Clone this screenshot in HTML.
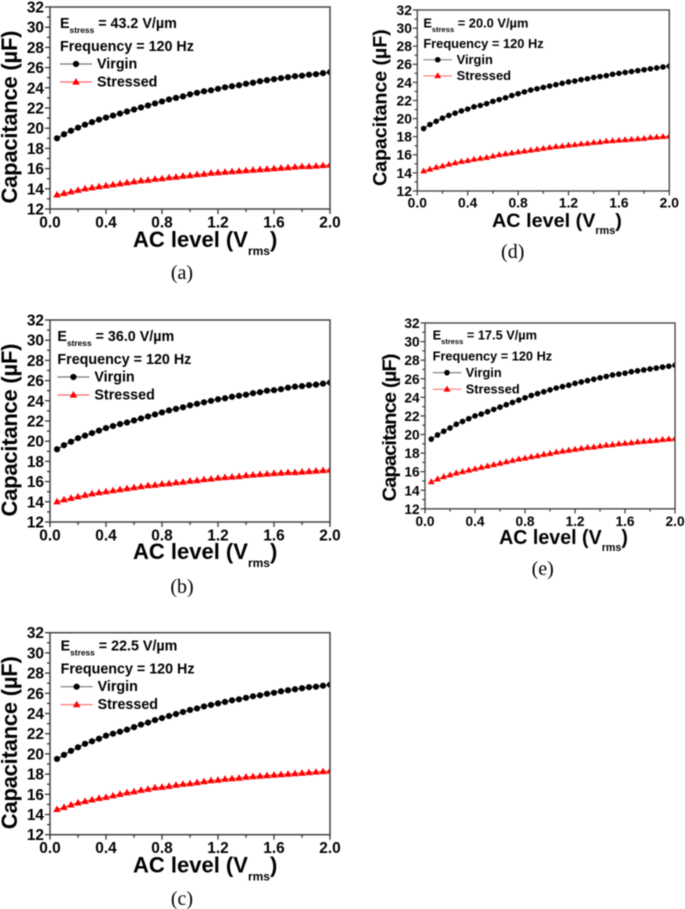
<!DOCTYPE html>
<html lang="en">
<head>
<meta charset="utf-8">
<title>Capacitance vs AC level</title>
<style>
html,body{margin:0;padding:0;background:#fff;width:685px;height:909px;overflow:hidden}
svg{display:block;filter:blur(0.5px)}
text{font-family:"Liberation Sans",sans-serif;font-weight:bold;fill:#000}
.tick{font-size:15.4px}
.axis{font-size:22px}
.leg{font-size:14.3px}
.sub{font-size:8.4px}
.subx{font-size:12px}
.cap{font-family:"Liberation Serif",serif;font-weight:normal;font-size:20px;text-anchor:middle}
</style>
</head>
<body>
<svg xmlns="http://www.w3.org/2000/svg" width="685" height="909" viewBox="0 0 685 909">
<defs><clipPath id="plot-clip"><rect x="-1" y="-8" width="281" height="218"></rect></clipPath></defs>

<g id="panel-a" transform="translate(50,7)">
  <text class="axis" transform="translate(-33,110) rotate(-90)" text-anchor="middle" textLength="173">Capacitance (µF)</text>
  <text class="axis" x="83" y="240">AC level (V<tspan class="subx" dy="8">rms</tspan><tspan dy="-8">)</tspan></text>
  <g transform="translate(0,0)">
    <text class="leg" x="10" y="21">E<tspan class="sub" dy="5">stress</tspan><tspan dy="-5"> = 43.2 V/µm</tspan></text>
    <text class="leg" x="10" y="44">Frequency = 120 Hz</text>
    <line x1="10" x2="42" y1="57" y2="57" stroke="#777" stroke-width="1.2"></line>
    <circle cx="26" cy="57" r="3.1" fill="#000"></circle>
    <text class="leg" x="47" y="61.5">Virgin</text>
    <line x1="10" x2="42" y1="75" y2="75" stroke="#f66" stroke-width="1.2"></line>
    <polygon points="26,71 29.8,77.6 22.2,77.6" fill="#f00"></polygon>
    <text class="leg" x="47" y="79.5">Stressed</text>
  </g>
</g>

<g id="panel-b" transform="translate(50,320)">
  <text class="axis" transform="translate(-33,110) rotate(-90)" text-anchor="middle" textLength="173">Capacitance (µF)</text>
  <text class="axis" x="83" y="239">AC level (V<tspan class="subx" dy="8">rms</tspan><tspan dy="-8">)</tspan></text>
  <g transform="translate(-2.6,0)">
    <text class="leg" x="10" y="21">E<tspan class="sub" dy="5">stress</tspan><tspan dy="-5"> = 36.0 V/µm</tspan></text>
    <text class="leg" x="10" y="44">Frequency = 120 Hz</text>
    <line x1="10" x2="42" y1="57" y2="57" stroke="#777" stroke-width="1.2"></line>
    <circle cx="26" cy="57" r="3.1" fill="#000"></circle>
    <text class="leg" x="47" y="61.5">Virgin</text>
    <line x1="10" x2="42" y1="75" y2="75" stroke="#f66" stroke-width="1.2"></line>
    <polygon points="26,71 29.8,77.6 22.2,77.6" fill="#f00"></polygon>
    <text class="leg" x="47" y="79.5">Stressed</text>
  </g>
</g>

<g id="panel-c" transform="translate(50,632.7)">
  <text class="axis" transform="translate(-33,110) rotate(-90)" text-anchor="middle" textLength="173">Capacitance (µF)</text>
  <text class="axis" x="83" y="240">AC level (V<tspan class="subx" dy="8">rms</tspan><tspan dy="-8">)</tspan></text>
  <g transform="translate(0.6,-3)">
    <text class="leg" x="10" y="21">E<tspan class="sub" dy="5">stress</tspan><tspan dy="-5"> = 22.5 V/µm</tspan></text>
    <text class="leg" x="10" y="44">Frequency = 120 Hz</text>
    <line x1="10" x2="42" y1="57" y2="57" stroke="#777" stroke-width="1.2"></line>
    <circle cx="26" cy="57" r="3.1" fill="#000"></circle>
    <text class="leg" x="47" y="61.5">Virgin</text>
    <line x1="10" x2="42" y1="75" y2="75" stroke="#f66" stroke-width="1.2"></line>
    <polygon points="26,71 29.8,77.6 22.2,77.6" fill="#f00"></polygon>
    <text class="leg" x="47" y="79.5">Stressed</text>
  </g>
</g>

<g id="panel-d" transform="translate(417.3,10) scale(0.9,0.896)">
  <text class="axis" transform="translate(-34,109) rotate(-90)" text-anchor="middle" textLength="175">Capacitance (µF)</text>
  <text class="axis" x="83" y="242">AC level (V<tspan class="subx" dy="8">rms</tspan><tspan dy="-8">)</tspan></text>
  <g transform="translate(-3.3,-1.5)">
    <text class="leg" x="10" y="21">E<tspan class="sub" dy="5">stress</tspan><tspan dy="-5"> = 20.0 V/µm</tspan></text>
    <text class="leg" x="10" y="44">Frequency = 120 Hz</text>
    <line x1="10" x2="42" y1="57" y2="57" stroke="#777" stroke-width="1.2"></line>
    <circle cx="26" cy="57" r="3.1" fill="#000"></circle>
    <text class="leg" x="47" y="61.5">Virgin</text>
    <line x1="10" x2="42" y1="75" y2="75" stroke="#f66" stroke-width="1.2"></line>
    <polygon points="26,71 29.8,77.6 22.2,77.6" fill="#f00"></polygon>
    <text class="leg" x="47" y="79.5">Stressed</text>
  </g>
</g>

<g id="panel-e" transform="translate(425,323) scale(0.893,0.92)">
  <text class="axis" transform="translate(-32.5,113.6) rotate(-90)" text-anchor="middle" textLength="161">Capacitance (µF)</text>
  <text class="axis" x="83" y="240">AC level (V<tspan class="subx" dy="8">rms</tspan><tspan dy="-8">)</tspan></text>
  <g transform="translate(-1.4,-3)">
    <text class="leg" x="10" y="21">E<tspan class="sub" dy="5">stress</tspan><tspan dy="-5"> = 17.5 V/µm</tspan></text>
    <text class="leg" x="10" y="44">Frequency = 120 Hz</text>
    <line x1="10" x2="42" y1="57" y2="57" stroke="#777" stroke-width="1.2"></line>
    <circle cx="26" cy="57" r="3.1" fill="#000"></circle>
    <text class="leg" x="47" y="61.5">Virgin</text>
    <line x1="10" x2="42" y1="75" y2="75" stroke="#f66" stroke-width="1.2"></line>
    <polygon points="26,71 29.8,77.6 22.2,77.6" fill="#f00"></polygon>
    <text class="leg" x="47" y="79.5">Stressed</text>
  </g>
</g>

<text class="cap" x="182" y="279">(a)</text>
<text class="cap" x="182" y="593">(b)</text>
<text class="cap" x="182" y="905">(c)</text>
<text class="cap" x="512.7" y="258">(d)</text>
<text class="cap" x="542.7" y="575">(e)</text>
</svg>

<script>
const acLevels = [0.05,0.10,0.15,0.20,0.25,0.30,0.35,0.40,0.45,0.50,0.55,0.60,0.65,0.70,0.75,0.80,0.85,0.90,0.95,1.00,1.05,1.10,1.15,1.20,1.25,1.30,1.35,1.40,1.45,1.50,1.55,1.60,1.65,1.70,1.75,1.80,1.85,1.90,1.95,2.00];

const virginA = [19.0,19.4,19.75,20.05,20.35,20.6,20.85,21.05,21.25,21.45,21.65,21.85,22.05,22.25,22.45,22.65,22.85,23.0,23.15,23.35,23.5,23.65,23.75,23.9,24.05,24.15,24.25,24.4,24.5,24.65,24.75,24.85,24.95,25.05,25.15,25.2,25.3,25.35,25.45,25.55];
const stressedA = [13.4,13.55,13.7,13.85,14.0,14.1,14.2,14.3,14.4,14.5,14.6,14.7,14.8,14.85,14.95,15.0,15.1,15.15,15.25,15.3,15.4,15.45,15.55,15.6,15.65,15.7,15.75,15.8,15.85,15.9,15.95,16.0,16.05,16.1,16.15,16.2,16.2,16.25,16.3,16.35];

const virginB = [19.2,19.6,19.95,20.3,20.55,20.8,21.05,21.3,21.5,21.7,21.85,22.05,22.25,22.45,22.65,22.85,23.05,23.2,23.35,23.55,23.7,23.85,24.0,24.15,24.25,24.4,24.5,24.6,24.75,24.85,25.0,25.05,25.15,25.3,25.4,25.45,25.55,25.6,25.7,25.8];
const stressedB = [14.0,14.2,14.35,14.5,14.65,14.8,14.9,15.0,15.1,15.2,15.3,15.4,15.5,15.6,15.65,15.75,15.8,15.9,15.95,16.05,16.1,16.2,16.25,16.35,16.4,16.45,16.5,16.6,16.65,16.7,16.75,16.8,16.85,16.9,16.9,16.95,17.0,17.05,17.1,17.15];

const virginC = [19.5,19.9,20.3,20.65,21.0,21.25,21.5,21.8,22.0,22.2,22.4,22.65,22.9,23.1,23.35,23.55,23.75,23.95,24.15,24.35,24.5,24.7,24.85,25.0,25.15,25.3,25.4,25.55,25.7,25.8,25.95,26.05,26.2,26.3,26.4,26.5,26.6,26.65,26.75,26.85];
const stressedC = [14.5,14.7,14.95,15.15,15.3,15.45,15.6,15.7,15.85,16.0,16.15,16.25,16.4,16.5,16.65,16.7,16.8,16.9,17.0,17.05,17.15,17.25,17.35,17.4,17.5,17.55,17.6,17.7,17.75,17.8,17.85,17.9,17.95,18.0,18.05,18.1,18.15,18.2,18.25,18.3];

const virginD = [18.9,19.35,19.7,20.05,20.35,20.6,20.85,21.05,21.3,21.45,21.65,21.9,22.1,22.3,22.55,22.75,22.95,23.15,23.3,23.45,23.6,23.75,23.9,24.05,24.15,24.3,24.4,24.55,24.65,24.75,24.9,25.0,25.1,25.2,25.3,25.4,25.5,25.6,25.7,25.8];
const stressedD = [14.2,14.4,14.6,14.75,14.95,15.1,15.25,15.35,15.5,15.6,15.7,15.85,16.0,16.1,16.2,16.3,16.4,16.5,16.6,16.7,16.8,16.9,16.95,17.05,17.1,17.2,17.25,17.35,17.4,17.5,17.55,17.6,17.65,17.7,17.75,17.8,17.9,17.95,18.0,18.05];

const virginE = [19.5,19.95,20.35,20.7,21.1,21.4,21.7,22.0,22.2,22.45,22.7,22.95,23.2,23.45,23.7,23.95,24.2,24.4,24.6,24.8,25.0,25.15,25.3,25.5,25.65,25.8,25.95,26.1,26.25,26.4,26.5,26.6,26.75,26.85,26.95,27.05,27.15,27.25,27.35,27.45];
const stressedE = [14.9,15.2,15.45,15.65,15.85,16.0,16.15,16.3,16.45,16.6,16.75,16.9,17.05,17.2,17.35,17.45,17.6,17.7,17.85,17.95,18.1,18.2,18.3,18.4,18.5,18.6,18.65,18.75,18.85,18.9,19.0,19.05,19.1,19.2,19.25,19.3,19.35,19.45,19.5,19.55];

const yTickLabels = ["12","14","16","18","20","22","24","26","28","30","32"];
const yMinorTicks = [13,15,17,19,21,23,25,27,29,31];
const xTickLabels = ["0.0","0.4","0.8","1.2","1.6","2.0"];
const xMinorTicks = [0.2,0.6,1.0,1.4,1.8];

const panelIds = ["panel-a","panel-b","panel-c","panel-d","panel-e"];
const virginSeries = [virginA,virginB,virginC,virginD,virginE];
const stressedSeries = [stressedA,stressedB,stressedC,stressedD,stressedE];

const NS = "http://www.w3.org/2000/svg";
const PLOT_W = 280, PLOT_H = 202;
const X_MIN = 0, X_MAX = 2, Y_MIN = 12, Y_MAX = 32;
function xScale(v){ return (v - X_MIN) / (X_MAX - X_MIN) * PLOT_W; }
function yScale(v){ return (Y_MAX - v) / (Y_MAX - Y_MIN) * PLOT_H; }

function svgEl(tag, attrs, parent){
  const el = document.createElementNS(NS, tag);
  for (const k in attrs) el.setAttribute(k, attrs[k]);
  parent.appendChild(el);
  return el;
}

function drawTick(g, x1, y1, x2, y2, name){
  const t = svgEl("line", {x1:x1, y1:y1, x2:x2, y2:y2, stroke:"#333", "stroke-width":1.3}, g);
  
  
}

function drawAxes(panel){
  const frame = svgEl("rect", {x:0, y:0, width:PLOT_W, height:PLOT_H, fill:"none", stroke:"#444", "stroke-width":1.5}, panel);
  
  

  yTickLabels.forEach(function(label){
    const y = yScale(Number(label));
    drawTick(panel, -5, y, 0, y, 'y-major-tick');
    const t = svgEl("text", {x:-6, y:y + 5.5, "text-anchor":"end", class:"tick"}, panel);
    
    
    t.textContent = label;
  });
  yMinorTicks.forEach(function(v){
    drawTick(panel, -3, yScale(v), 0, yScale(v), 'y-minor-tick');
  });
  xTickLabels.forEach(function(label){
    const x = xScale(Number(label));
    drawTick(panel, x, PLOT_H, x, PLOT_H + 5, 'x-major-tick');
    const t = svgEl("text", {x:x, y:PLOT_H + 18.5, "text-anchor":"middle", class:"tick"}, panel);
    
    
    t.textContent = label;
  });
  xMinorTicks.forEach(function(v){
    drawTick(panel, xScale(v), PLOT_H, xScale(v), PLOT_H + 3, 'x-minor-tick');
  });
}

function drawVirgin(panel, values){
  const g = svgEl("g", {"clip-path":"url(#plot-clip)"}, panel);
  
  
  const pts = values.map(function(v, i){ return xScale(acLevels[i]) + "," + yScale(v); }).join(" ");
  const line = svgEl("polyline", {points:pts, fill:"none", stroke:"#000", "stroke-width":1}, g);
  
  
  values.forEach(function(v, i){
    const c = svgEl("circle", {cx:xScale(acLevels[i]), cy:yScale(v), r:3.1, fill:"#000"}, g);
    
    
  });
}

function drawStressed(panel, values){
  const g = svgEl("g", {"clip-path":"url(#plot-clip)"}, panel);
  
  
  const pts = values.map(function(v, i){ return xScale(acLevels[i]) + "," + yScale(v); }).join(" ");
  const line = svgEl("polyline", {points:pts, fill:"none", stroke:"#f00", "stroke-width":1}, g);
  
  
  values.forEach(function(v, i){
    const x = xScale(acLevels[i]), y = yScale(v);
    const p = svgEl("polygon", {points:x + "," + (y - 4) + " " + (x + 3.8) + "," + (y + 2.6) + " " + (x - 3.8) + "," + (y + 2.6), fill:"#f00"}, g);
    
    
  });
}

panelIds.forEach(function(id, i){
  const panel = document.getElementById(id);
  drawVirgin(panel, virginSeries[i]);
  drawStressed(panel, stressedSeries[i]);
  drawAxes(panel);
});
</script>
</body>
</html>
